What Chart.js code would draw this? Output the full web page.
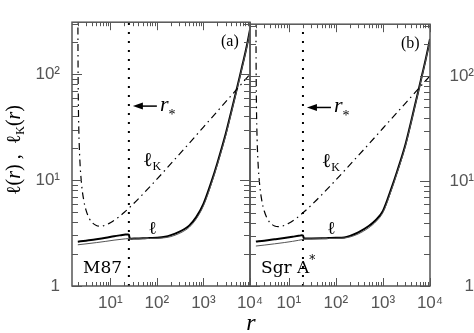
<!DOCTYPE html>
<html>
<head>
<meta charset="utf-8">
<script src="https://cdn.jsdelivr.net/npm/chart.js@4.4.0/dist/chart.umd.min.js"></script>
<style>
  body { margin: 0; background: #fff; }
  #wrap { position: relative; width: 474px; height: 333px; }
  #wrap canvas { position: absolute; left: 0; top: 0; }
</style>
</head>
<body>
<div id="wrap">
  <canvas id="panelA" width="474" height="333"></canvas>
  <canvas id="panelB" width="474" height="333"></canvas>
</div>
<script>
// ----- data -----
// Keplerian angular momentum (dash-dot), same in both panels
const rKep = [2.005, 2.01, 2.02, 2.05, 2.1, 2.2, 2.4, 2.7, 3, 3.5, 4, 5, 6, 7, 8, 10, 15, 20, 30, 50, 100, 200, 500, 1000, 2000, 5000, 10000];
const ellKep = [568, 285, 143.5, 58.7, 30.4, 16.3, 9.30, 6.34, 5.20, 4.37, 4.0, 3.73, 3.67, 3.70, 3.77, 3.95, 4.47, 4.97, 5.87, 7.37, 10.2, 14.3, 22.4, 31.7, 44.8, 70.7, 100];

// panel (a) M87
const rA = [2, 3, 5, 8, 12, 17, 21, 24, 25, 26, 28, 35, 50, 70, 100, 150, 200, 300, 400, 500, 700, 1000, 1500, 2000, 3000, 4000, 5000, 6000, 7000, 8000, 9000, 10000];
const ellA = [2.62, 2.68, 2.76, 2.85, 2.95, 3.02, 3.06, 3.07, 3.05, 2.82, 2.80, 2.81, 2.82, 2.84, 2.86, 2.92, 3.02, 3.24, 3.47, 3.74, 4.47, 5.96, 9.77, 14.6, 27.2, 45.2, 67.6, 94.4, 126, 162, 207, 263];
const ellThinA = [2.45, 2.50, 2.57, 2.64, 2.71, 2.76, 2.79, 2.80, 2.80, 2.80, 2.79, 2.79, 2.80, 2.81, 2.82, 2.86, 2.93, 3.13, 3.35, 3.6, 4.3, 5.72, 9.4, 14.1, 26.3, 43.8, 65.6, 91.8, 123, 158, 202, 257];
const rStarA = 25;

// panel (b) Sgr A*
const rB = [2, 3, 5, 8, 12, 16, 19, 20, 21, 23, 30, 50, 70, 100, 150, 200, 300, 500, 700, 1000, 1500, 2000, 3000, 4000, 5000, 6000, 7000, 8000, 9000, 10000];
const ellB = [2.65, 2.70, 2.78, 2.86, 2.94, 3.0, 3.04, 3.02, 2.84, 2.83, 2.83, 2.84, 2.86, 2.88, 2.90, 3.0, 3.24, 3.72, 4.22, 5.19, 8.41, 12.3, 22.1, 37.2, 56.9, 80.4, 108, 140, 178, 224];
const ellThinB = [2.40, 2.45, 2.52, 2.59, 2.66, 2.72, 2.76, 2.78, 2.80, 2.81, 2.81, 2.82, 2.83, 2.84, 2.86, 2.93, 3.13, 3.58, 4.07, 5.0, 8.1, 11.9, 21.4, 36.3, 55.6, 78.8, 106, 137, 175, 220];
const rStarB = 20;

// axes
const xMin = 1.5, xMax = 10000;
const yMin = 1, yMax = 310;
const xTickVals = [10, 100, 1000, 10000];
const xTickLabels = ['10¹', '10²', '10³', '10⁴'];
const yTickVals = [1, 10, 100];
const yTickLabels = ['1', '10¹', '10²'];

// label anchors (data coords)
const kepLabelAt = { x: 50, y: 13.5 };
const ellLabelAt = { x: 65, y: 3.1 };
const arrowLevel = 50;

const SERIF = '"Liberation Serif", "DejaVu Serif", serif';
const AXIS_GRAY = '#555';

function pts(xs, ys) {
    return xs.map((x, i) => ({ x: x, y: ys[i] }));
}

function logSteps(min, max) {
    const out = [];
    for (let e = Math.floor(Math.log10(min)); e <= Math.ceil(Math.log10(max)); e++) {
        for (let m = 1; m < 10; m++) {
            const v = m * Math.pow(10, e);
            if (v >= min * 0.999 && v <= max * 1.001) out.push({ v: v, major: m === 1 });
        }
    }
    return out;
}

// draws a run of text pieces {t, font, dy} starting at x
function drawRuns(ctx, runs, x, y) {
    runs.forEach(function (r) {
        ctx.font = r.font;
        ctx.fillText(r.t, x, y + (r.dy || 0));
        x += ctx.measureText(r.t).width;
    });
}
function runsWidth(ctx, runs) {
    let w = 0;
    runs.forEach(function (r) { ctx.font = r.font; w += ctx.measureText(r.t).width; });
    return w;
}

// frame, inward ticks and text labels
const panelDecor = {
    id: 'panelDecor',
    afterDatasetsDraw(chart, args, opts) {
        const ctx = chart.ctx;
        const a = chart.chartArea;
        const xs = chart.scales.x, ys = chart.scales.y;
        ctx.save();

        // tick marks on all four sides, pointing inward
        ctx.strokeStyle = AXIS_GRAY;
        ctx.lineWidth = 1;
        ctx.beginPath();
        logSteps(xMin, xMax).forEach(function (t) {
            const px = Math.round(xs.getPixelForValue(t.v)) + 0.5;
            const len = t.major ? 8 : 4;
            ctx.moveTo(px, a.bottom); ctx.lineTo(px, a.bottom - len);
            ctx.moveTo(px, a.top); ctx.lineTo(px, a.top + len);
        });
        logSteps(yMin, yMax).forEach(function (t) {
            const py = Math.round(ys.getPixelForValue(t.v)) + 0.5;
            const len = t.major ? 10 : 6;
            ctx.moveTo(a.left, py); ctx.lineTo(a.left + len, py);
            ctx.moveTo(a.right, py); ctx.lineTo(a.right - len, py);
        });
        ctx.stroke();

        ctx.lineWidth = 1.5;
        ctx.strokeRect(a.left, a.top, a.right - a.left, a.bottom - a.top);

        // arrow pointing to r_*
        ctx.fillStyle = '#000';
        ctx.strokeStyle = '#000';
        const ay = ys.getPixelForValue(arrowLevel);
        const tip = xs.getPixelForValue(opts.rStar) + 4;
        const tail = tip + 24;
        ctx.lineWidth = 1.5;
        ctx.beginPath();
        ctx.moveTo(tip + 8, ay); ctx.lineTo(tail, ay);
        ctx.stroke();
        ctx.beginPath();
        ctx.moveTo(tip, ay); ctx.lineTo(tip + 10, ay - 3.5); ctx.lineTo(tip + 10, ay + 3.5);
        ctx.closePath();
        ctx.fill();
        ctx.textBaseline = 'alphabetic';
        ctx.textAlign = 'left';
        drawRuns(ctx, [
            { t: 'r', font: 'italic 22px ' + SERIF },
            { t: '*', font: '14px ' + SERIF, dy: 8 }
        ], tail + 3, ay + 5);

        // curve labels
        drawRuns(ctx, [
            { t: 'ℓ', font: '20px ' + SERIF },
            { t: 'K', font: '12px ' + SERIF, dy: 4 }
        ], xs.getPixelForValue(kepLabelAt.x), ys.getPixelForValue(kepLabelAt.y));
        drawRuns(ctx, [{ t: 'ℓ', font: '18px ' + SERIF }],
            xs.getPixelForValue(ellLabelAt.x), ys.getPixelForValue(ellLabelAt.y));

        // panel letter and object name
        ctx.font = '16px ' + SERIF;
        ctx.fillText(opts.letter, a.right - 29, a.top + 24);
        drawRuns(ctx, [
            { t: opts.name, font: '17px "DejaVu Serif", serif' },
            { t: opts.nameSup, font: '12px "DejaVu Serif", serif', dy: -9 }
        ], a.left + 11, 273);

        if (opts.titles) {
            // x title
            ctx.font = 'italic 24px ' + SERIF;
            ctx.textAlign = 'center';
            ctx.fillText('r', 251, 330);
            // y title, rotated
            const yRuns = [
                { t: 'ℓ', font: '20px ' + SERIF },
                { t: '(', font: '20px ' + SERIF },
                { t: 'r', font: 'italic 20px ' + SERIF },
                { t: ')', font: '20px ' + SERIF },
                { t: ' ,  ', font: '20px ' + SERIF },
                { t: 'ℓ', font: '20px ' + SERIF },
                { t: 'K', font: '12px ' + SERIF, dy: 4 },
                { t: '(', font: '20px ' + SERIF },
                { t: 'r', font: 'italic 20px ' + SERIF },
                { t: ')', font: '20px ' + SERIF }
            ];
            ctx.textAlign = 'left';
            ctx.translate(20, 150);
            ctx.rotate(-Math.PI / 2);
            drawRuns(ctx, yRuns, -runsWidth(ctx, yRuns) / 2, 0);
        }
        ctx.restore();
    }
};

function buildPanel(canvasId, cfg) {
    const ctx = document.getElementById(canvasId).getContext('2d');
    return new Chart(ctx, {
        type: 'line',
        data: {
            datasets: [
                {
                    data: pts(rKep, ellKep),
                    borderColor: '#000',
                    borderWidth: 1.2,
                    borderDash: [7, 4, 1.5, 4],
                    cubicInterpolationMode: 'monotone',
                    pointRadius: 0
                },
                {
                    data: pts(cfg.r, cfg.thin),
                    borderColor: '#555',
                    borderWidth: 1,
                    cubicInterpolationMode: 'monotone',
                    pointRadius: 0
                },
                {
                    data: pts(cfg.r, cfg.thick),
                    borderColor: '#000',
                    borderWidth: 2,
                    cubicInterpolationMode: 'monotone',
                    pointRadius: 0
                },
                {
                    data: [{ x: cfg.rStar, y: yMin }, { x: cfg.rStar, y: yMax }],
                    borderColor: '#000',
                    borderWidth: 2,
                    borderDash: [2, 7],
                    pointRadius: 0
                }
            ]
        },
        options: {
            responsive: false,
            animation: false,
            events: [],
            layout: { padding: { left: cfg.padLeft, right: cfg.padRight, top: 1, bottom: 0 } },
            plugins: {
                legend: { display: false },
                tooltip: { enabled: false },
                panelDecor: cfg
            },
            scales: {
                x: {
                    type: 'logarithmic',
                    min: xMin,
                    max: xMax,
                    position: 'bottom',
                    grid: { display: false, drawTicks: false },
                    border: { display: false },
                    afterBuildTicks: function (s) { s.ticks = xTickVals.map(v => ({ value: v })); },
                    afterFit: function (s) { s.height = 47; },
                    ticks: {
                        autoSkip: false,
                        maxRotation: 0,
                        padding: 7,
                        color: AXIS_GRAY,
                        font: { family: '"Liberation Sans", "DejaVu Sans", sans-serif', size: 17 },
                        callback: v => xTickLabels[xTickVals.indexOf(v)]
                    }
                },
                y: {
                    type: 'logarithmic',
                    min: yMin,
                    max: yMax,
                    position: cfg.yPos,
                    grid: { display: false, drawTicks: false },
                    border: { display: false },
                    afterBuildTicks: function (s) { s.ticks = yTickVals.map(v => ({ value: v })); },
                    afterFit: function (s) { s.width = cfg.yWidth; },
                    ticks: {
                        autoSkip: false,
                        padding: cfg.yPad,
                        crossAlign: cfg.yAlign,
                        color: AXIS_GRAY,
                        font: { family: '"Liberation Sans", "DejaVu Sans", sans-serif', size: 17 },
                        callback: v => yTickLabels[yTickVals.indexOf(v)]
                    }
                }
            }
        },
        plugins: [panelDecor]
    });
}

buildPanel('panelA', {
    r: rA, thick: ellA, thin: ellThinA, rStar: rStarA,
    padLeft: 0, padRight: 224, yPos: 'left', yWidth: 72, yPad: 12, yAlign: 'near',
    letter: '(a)', name: 'M87', nameSup: '', titles: true
});
buildPanel('panelB', {
    r: rB, thick: ellB, thin: ellThinB, rStar: rStarB,
    padLeft: 250, padRight: 0, yPos: 'right', yWidth: 44, yPad: 14, yAlign: 'far',
    letter: '(b)', name: 'Sgr A', nameSup: '*', titles: false
});
</script>
</body>
</html>
